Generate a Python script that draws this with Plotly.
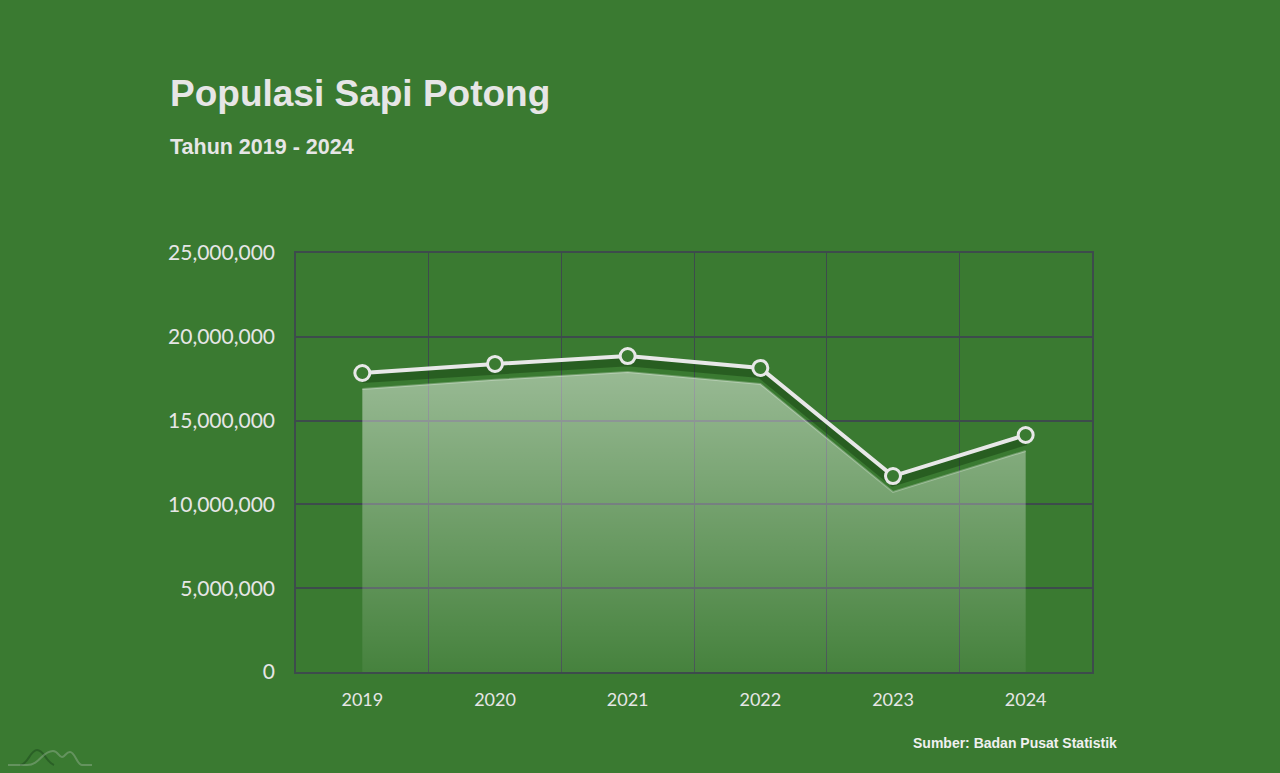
import plotly.graph_objects as go

years = ["2019", "2020", "2021", "2022", "2023", "2024"]
populasi = [17_840_000, 18_380_000, 18_850_000, 18_140_000, 11_690_000, 14_140_000]
y_ticks = [0, 5_000_000, 10_000_000, 15_000_000, 20_000_000, 25_000_000]
shadow_offset = 950_000  # visual drop offset of the area under the line

BG = "#3a7a31"
GRID = "#3d4b4c"
TXT = "#e6e6e6"

W, H = 1280, 773
ML, MR, MT, MB = 296, 188, 253, 101
PW, PH = W - ML - MR, H - MT - MB


def px(xp, yp):
    """pixel -> paper coords"""
    return (xp - ML) / PW, (H - MB - yp) / PH


def svg_path(cmds):
    out = []
    for cmd, pts in cmds:
        coords = " ".join("{:.5f} {:.5f}".format(*px(a, b)) for a, b in pts)
        out.append(f"{cmd} {coords}")
    return " ".join(out)


x = list(range(len(years)))
area_top = [v - shadow_offset for v in populasi]
shadow_line = [v - shadow_offset * 0.35 for v in populasi]

fig = go.Figure()

fig.add_trace(go.Scatter(
    x=x, y=area_top, mode="lines", fill="tozeroy",
    line=dict(color="rgba(255,255,255,0.28)", width=2),
    fillgradient=dict(type="vertical",
                      colorscale=[[0, "rgba(255,255,255,0.06)"],
                                  [1, "rgba(255,255,255,0.48)"]]),
    hoverinfo="skip", showlegend=False,
))
fig.add_trace(go.Scatter(
    x=x, y=shadow_line, mode="lines",
    line=dict(color="rgba(20,60,15,0.45)", width=9),
    hoverinfo="skip", showlegend=False,
))
fig.add_trace(go.Scatter(
    x=x, y=populasi, mode="lines+markers",
    line=dict(color="#e8e8e8", width=4),
    marker=dict(size=15, color=BG, line=dict(color="#e8e8e8", width=3)),
    showlegend=False,
))

# faint logo decoration bottom-left
dark_logo = svg_path([
    ("M", [(20, 765)]),
    ("C", [(28, 765), (30, 750), (37, 750)]),
    ("C", [(44, 750), (46, 762), (54, 765)]),
])
light_logo = svg_path([
    ("M", [(8, 765)]),
    ("L", [(27, 765)]),
    ("C", [(40, 765), (42, 751), (53, 751)]),
    ("C", [(58, 751), (59, 757), (62, 757)]),
    ("C", [(65, 757), (66, 752), (70, 752)]),
    ("C", [(75, 752), (77, 765), (82, 765)]),
    ("L", [(92, 765)]),
])

fig.update_layout(
    width=W, height=H,
    paper_bgcolor=BG, plot_bgcolor=BG,
    margin=dict(l=ML, r=MR, t=MT, b=MB),
    title=dict(
        text="<b>Populasi Sapi Potong</b><br><span style='font-size:21.5px'><b>Tahun 2019 - 2024</b></span>",
        x=170 / W, xanchor="left", y=1 - 106 / H, yanchor="top",
        font=dict(family="Liberation Sans, Arial", size=37, color=TXT),
    ),
    font=dict(family="Lato, Open Sans", color=TXT),
    annotations=[dict(
        text="<b>Sumber: Badan Pusat Statistik</b>", xref="paper", yref="paper",
        x=px(1119, 0)[0], xanchor="right", y=px(0, 743)[1], yanchor="middle",
        showarrow=False, font=dict(family="Liberation Sans, Arial", size=14, color="#f0f0f0"),
    )],
    shapes=[
        dict(type="path", xref="paper", yref="paper", path=dark_logo,
             line=dict(color="rgba(30,75,30,0.55)", width=2)),
        dict(type="path", xref="paper", yref="paper", path=light_logo,
             line=dict(color="rgba(180,195,180,0.35)", width=2)),
    ],
)

fig.update_xaxes(
    range=[-0.5, len(years) - 0.5], tickvals=x, ticktext=years,
    showgrid=False, zeroline=False,
    showline=True, linecolor=GRID, linewidth=1.5, mirror=True,
    tickfont=dict(size=18, color=TXT), ticklabelstandoff=11,
    minor=dict(tick0=0.5, dtick=1, showgrid=True, gridcolor=GRID, gridwidth=1),
)
fig.update_yaxes(
    range=[0, 25_000_000], tickvals=y_ticks, tickformat=",",
    showgrid=True, gridcolor=GRID, gridwidth=1.5, zeroline=False,
    showline=True, linecolor=GRID, linewidth=1.5, mirror=True,
    tickfont=dict(size=21, color=TXT), ticklabelstandoff=15,
)

fig.write_html("out.html")
